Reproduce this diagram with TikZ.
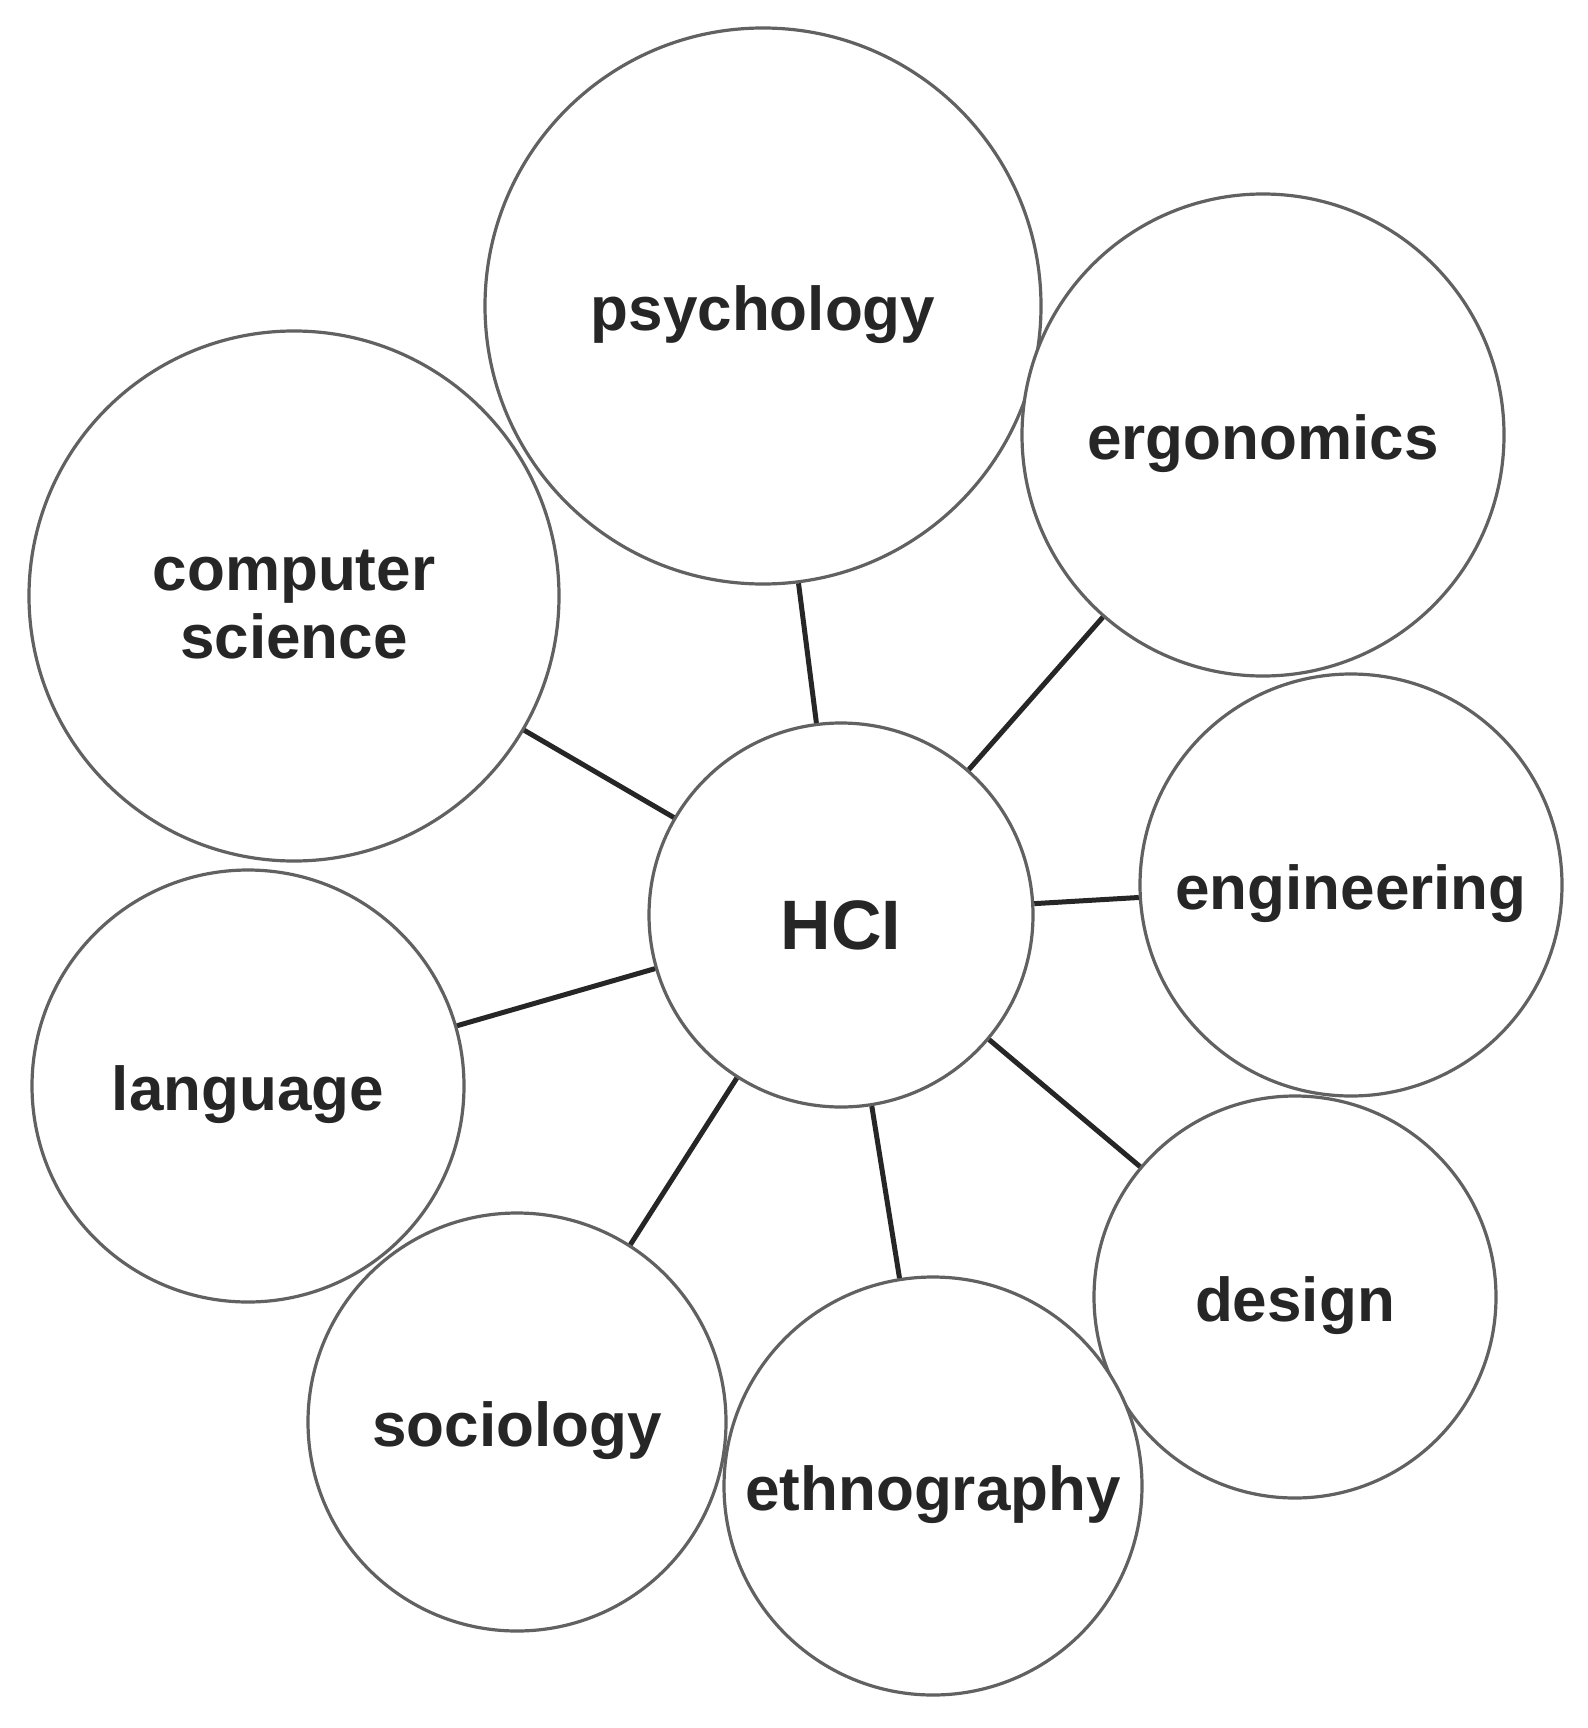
\documentclass[tikz,border=0pt]{standalone}
\usepackage{fontspec}
\setmainfont{Liberation Sans}
\begin{document}
\begin{tikzpicture}[x=0.5pt,y=-0.5pt,
  topic/.style={circle,draw=black!62,line width=1.6pt,fill=white,inner sep=0pt},
  lab/.style={yshift=-4.5pt,text=black!85,font=\bfseries\fontsize{31}{34}\selectfont,align=center},
  link/.style={draw=black!85,line width=2.5pt}]
\useasboundingbox[fill=white] (0,0) rectangle (1587,1728);
\node[topic,minimum size=192pt,label={[lab,yshift=-0.5pt,font=\bfseries\fontsize{35}{38}\selectfont]center:HCI}] (hci) at (841,915) {};
\node[topic,minimum size=278pt,label={[lab]center:psychology}] (psy) at (763,306) {};
\node[topic,minimum size=241pt,label={[lab]center:ergonomics}] (erg) at (1263,435) {};
\node[topic,minimum size=211pt,label={[lab]center:engineering}] (eng) at (1351,885) {};
\node[topic,minimum size=201pt,label={[lab]center:design}] (des) at (1295,1297) {};
\node[topic,minimum size=209pt,label={[lab]center:ethnography}] (eth) at (933,1486) {};
\node[topic,minimum size=209pt,label={[lab]center:sociology}] (soc) at (517,1422) {};
\node[topic,minimum size=216pt,label={[lab]center:language}] (lan) at (248,1086) {};
\node[topic,minimum size=265pt,label={[lab]center:computer\\science}] (cs) at (294,596) {};
\foreach \n in {psy,erg,eng,des,eth,soc,lan,cs}
  \draw[link] (hci) -- (\n);
\end{tikzpicture}
\end{document}
